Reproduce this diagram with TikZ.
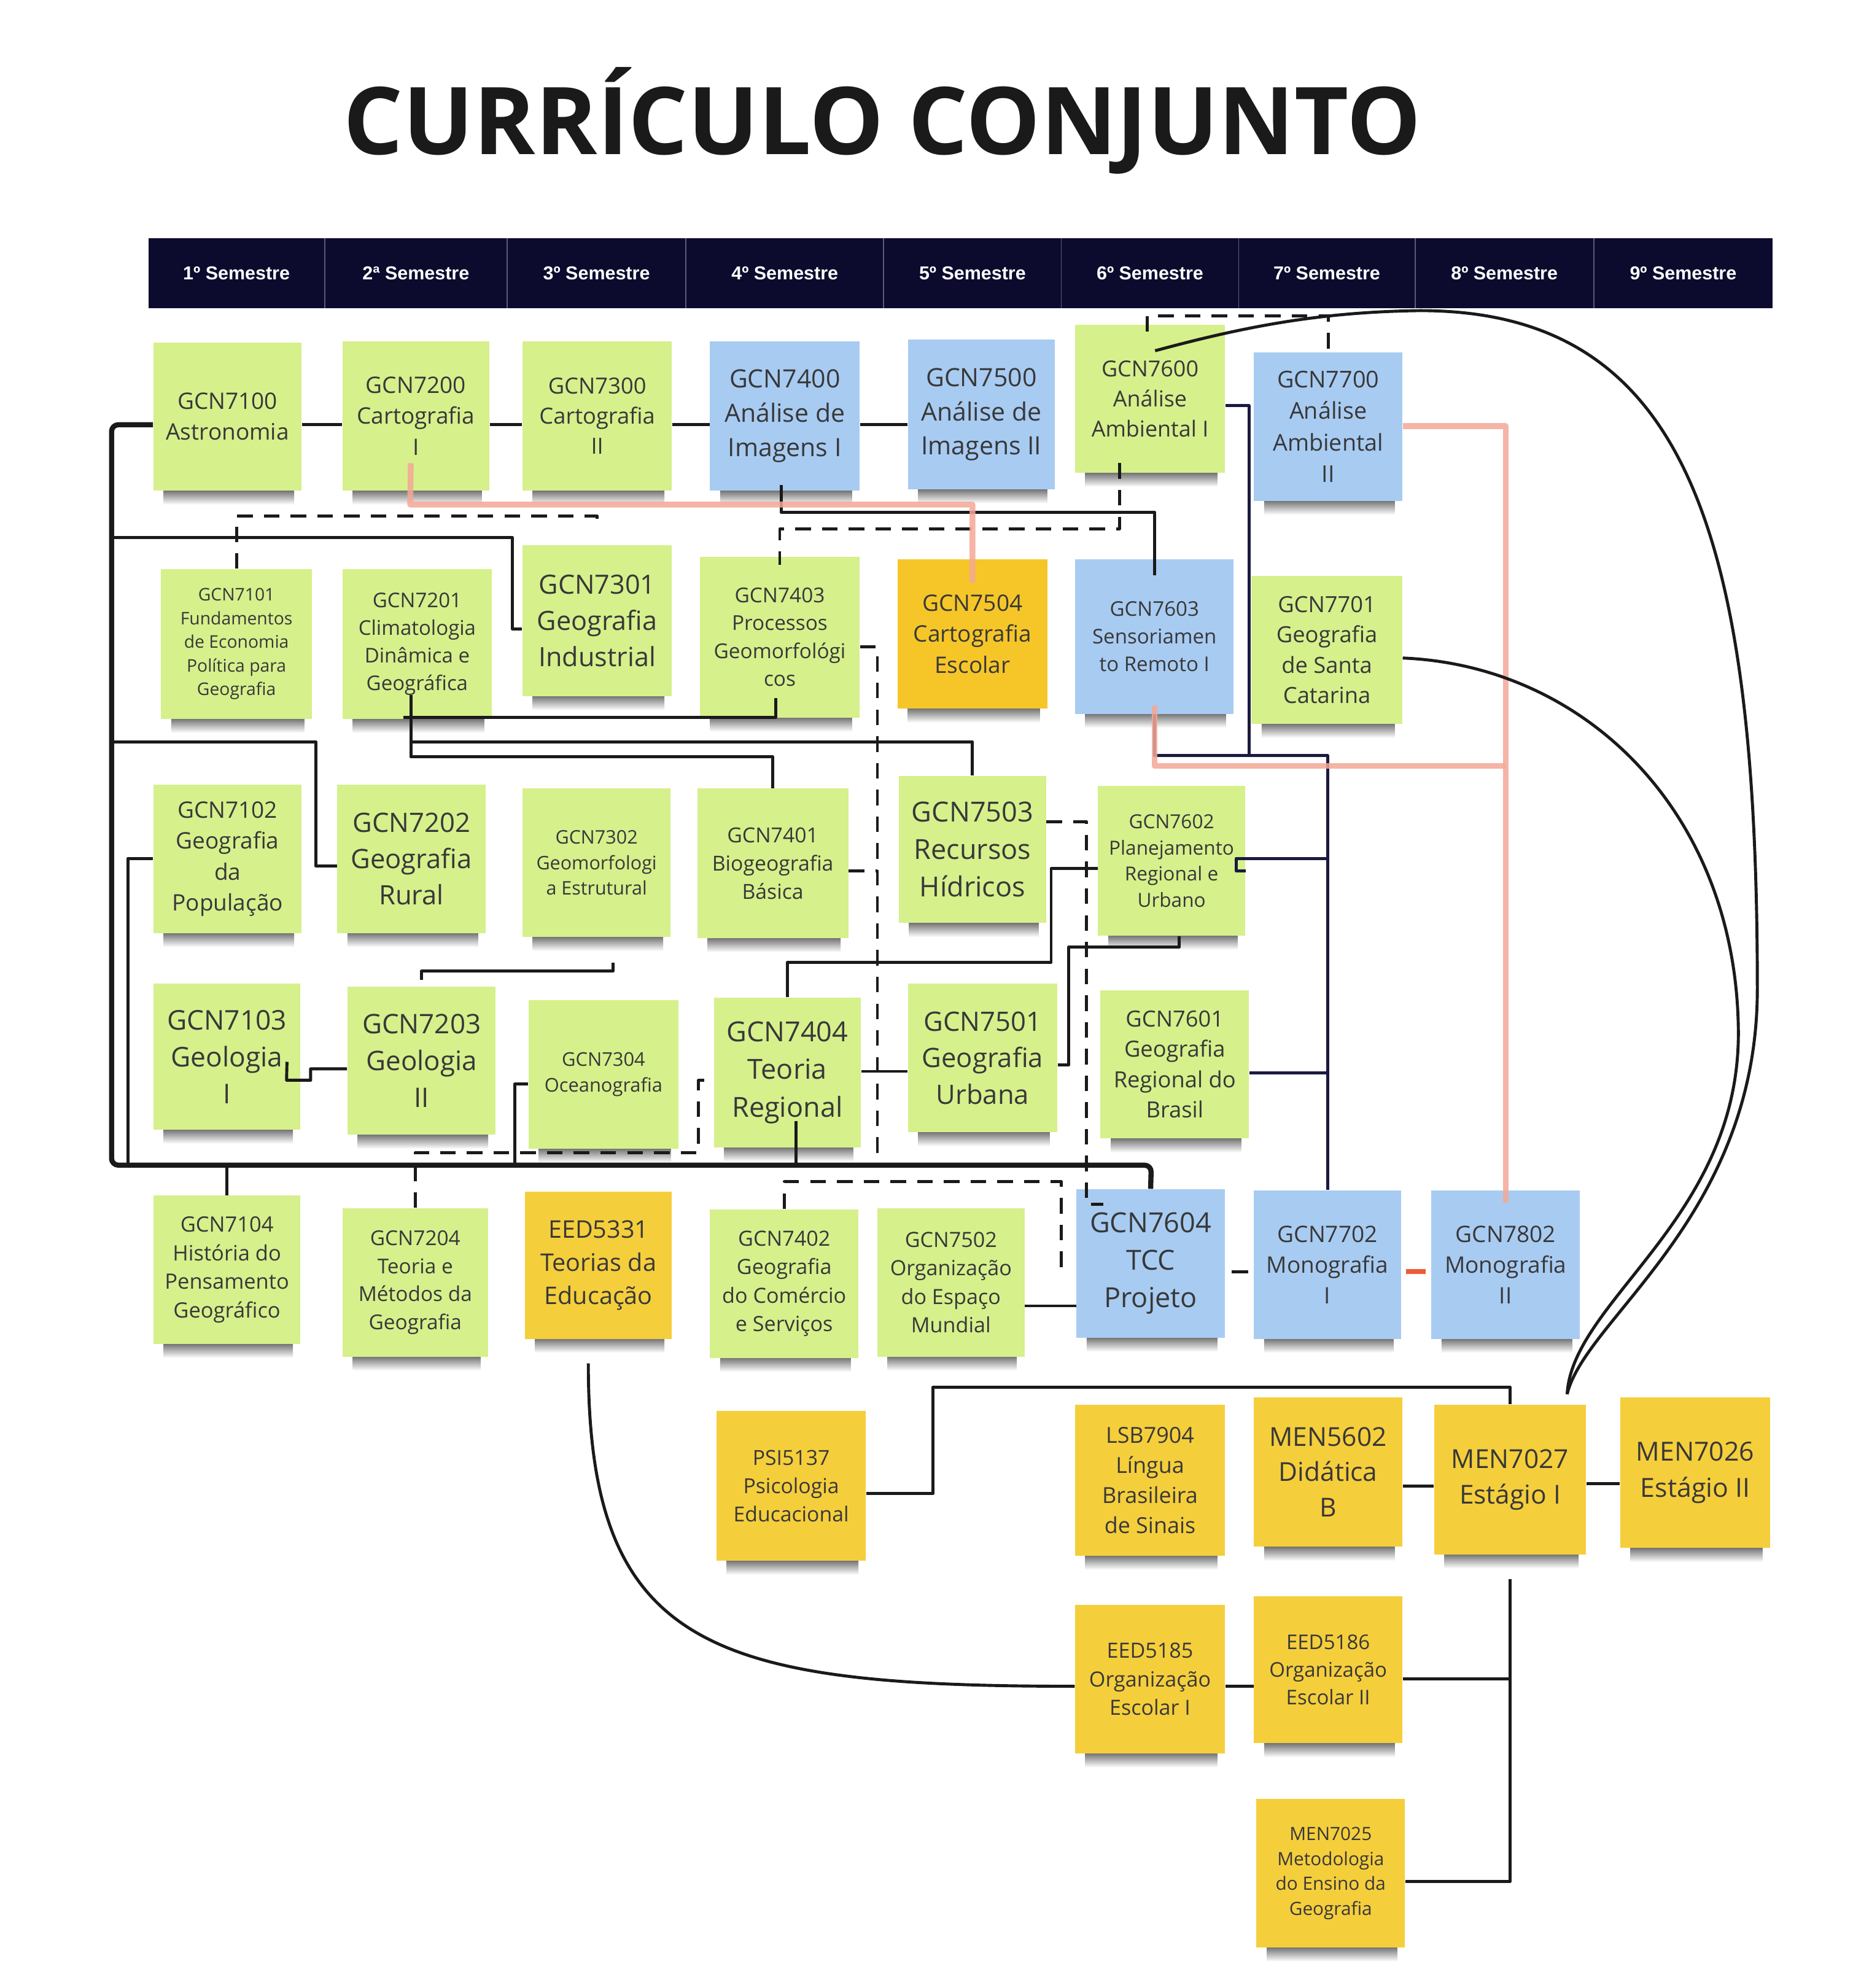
\documentclass[tikz,border=0pt]{standalone}
\usepackage{fontspec}
\setmainfont{Open Sans}
\newfontfamily\headfont{Liberation Sans}
\usetikzlibrary{calc}
\definecolor{greenc}{HTML}{D6F08C}
\definecolor{bluec}{HTML}{A8CBF2}
\definecolor{yellowc}{HTML}{F5CE3C}
\definecolor{orangec}{HTML}{F6C628}
\definecolor{navyc}{HTML}{0C0B2E}
\definecolor{divc}{HTML}{5A5A80}
\definecolor{navyl}{HTML}{1B1A40}
\definecolor{pinkc}{HTML}{F4A896}
\definecolor{redc}{HTML}{EF5B35}
\definecolor{linec}{HTML}{1A1A1A}
\definecolor{textc}{HTML}{383838}
\definecolor{titlec}{HTML}{1A1A1A}
\tikzset{
  cardbox/.style={rectangle, inner sep=0pt, align=center, text=textc},
  conn/.style={line width=1.35pt, draw=linec, line join=round},
  trunk/.style={conn, line width=2.3pt},
  dconn/.style={conn, dash pattern=on 7pt off 5pt},
  nconn/.style={conn, draw=navyl},
  pconn/.style={line width=2.6pt, draw=pinkc, opacity=0.85, line join=round},
  rconn/.style={line width=2.2pt, draw=redc},
  semlabel/.style={text=white, font=\headfont\bfseries\fontsize{8.4}{10}\selectfont}
}
\newcommand{\card}[8]{%
  \shade[top color=black!75, bottom color=white, opacity=0.85] ({#2+8},{#3+#5-2}) rectangle ({#2+#4-6},{#3+#5+11});
  \pgfmathsetmacro\cardbls{1.36*#7}%
  \node[cardbox, fill=#6, minimum width={#4*0.02cm}, minimum height={#5*0.02cm},
        font=\fontsize{#7}{\cardbls}\selectfont] (#1) at ({#2+#4/2},{#3+#5/2}) {#8};}
\begin{document}
\begin{tikzpicture}[x=0.02cm, y=-0.02cm]
\useasboundingbox[fill=white] (0,0) rectangle (1461,1568);
% title
\node[font=\fontsize{42}{50}\selectfont\bfseries, text=titlec, anchor=base] (title) at (696,122) {CURRÍCULO CONJUNTO};
% header
\fill[navyc] (117,188) rectangle (1398,243);
\foreach \x in {256,400,541,697,837,977,1116,1257} \draw[divc, line width=0.5pt] (\x,188) -- (\x,243);
\node[semlabel] (h1) at (186.5,215.5) {1º Semestre};
\node[semlabel] (h2) at (328,215.5) {2ª Semestre};
\node[semlabel] (h3) at (470.5,215.5) {3º Semestre};
\node[semlabel] (h4) at (619,215.5) {4º Semestre};
\node[semlabel] (h5) at (767,215.5) {5º Semestre};
\node[semlabel] (h6) at (907,215.5) {6º Semestre};
\node[semlabel] (h7) at (1046.5,215.5) {7º Semestre};
\node[semlabel] (h8) at (1186.5,215.5) {8º Semestre};
\node[semlabel] (h9) at (1327.5,215.5) {9º Semestre};
% cards
\card{c7100}{121}{270}{117}{117}{greenc}{10.2}{GCN7100\\Astronomia}
\card{c7200}{270}{269}{116}{118}{greenc}{10.2}{GCN7200\\Cartografia\\I}
\card{c7300}{412}{269}{118}{118}{greenc}{10.0}{GCN7300\\Cartografia\\II}
\card{c7400}{560}{269}{118}{118}{bluec}{11.3}{GCN7400\\Análise de\\Imagens I}
\card{c7500}{716}{268}{116}{118}{bluec}{11.3}{GCN7500\\Análise de\\Imagens II}
\card{c7600}{848}{256}{118}{117}{greenc}{9.9}{GCN7600\\Análise\\Ambiental I}
\card{c7700}{989}{278}{117}{117}{bluec}{10.4}{GCN7700\\Análise\\Ambiental\\II}
\card{c7101}{127}{449}{119}{118}{greenc}{7.8}{GCN7101\\Fundamentos\\de Economia\\Política para\\Geografia}
\card{c7201}{270}{449}{118}{118}{greenc}{9.1}{GCN7201\\Climatologia\\Dinâmica e\\Geográfica}
\card{c7301}{412}{430}{118}{119}{greenc}{11.9}{GCN7301\\Geografia\\Industrial}
\card{c7403}{552}{439}{126}{127}{greenc}{9.2}{GCN7403\\Processos\\Geomorfológi\\cos}
\card{c7504}{708}{441}{118}{118}{orangec}{10.2}{GCN7504\\Cartografia\\Escolar}
\card{c7603}{848}{441}{125}{122}{bluec}{9.1}{GCN7603\\Sensoriamen\\to Remoto I}
\card{c7701}{987}{454}{119}{117}{greenc}{10.0}{GCN7701\\Geografia\\de Santa\\Catarina}
\card{c7102}{121}{619}{117}{117}{greenc}{10.2}{GCN7102\\Geografia\\da\\População}
\card{c7202}{266}{619}{117}{117}{greenc}{12.0}{GCN7202\\Geografia\\Rural}
\card{c7302}{412}{622}{117}{117}{greenc}{8.4}{GCN7302\\Geomorfologi\\a Estrutural}
\card{c7401}{550}{622}{119}{118}{greenc}{9.3}{GCN7401\\Biogeografia\\Básica}
\card{c7503}{709}{612}{116}{116}{greenc}{12.4}{GCN7503\\Recursos\\Hídricos}
\card{c7602}{866}{620}{116}{118}{greenc}{8.7}{GCN7602\\Planejamento\\Regional e\\Urbano}
\card{c7103}{121}{776}{116}{115}{greenc}{12.2}{GCN7103\\Geologia\\I}
\card{c7203}{274}{778}{117}{117}{greenc}{12.1}{GCN7203\\Geologia\\II}
\card{c7304}{417}{789}{118}{117}{greenc}{8.5}{GCN7304\\Oceanografia}
\card{c7404}{563}{787}{116}{118}{greenc}{12.4}{GCN7404\\Teoria\\Regional}
\card{c7501}{716}{776}{118}{117}{greenc}{12.0}{GCN7501\\Geografia\\Urbana}
\card{c7601}{868}{781}{117}{117}{greenc}{10.0}{GCN7601\\Geografia\\Regional do\\Brasil}
\card{c7104}{121}{943}{116}{117}{greenc}{9.5}{GCN7104\\História do\\Pensamento\\Geográfico}
\card{c7204}{270}{953}{115}{117}{greenc}{9.2}{GCN7204\\Teoria e\\Métodos da\\Geografia}
\card{c5331}{414}{940}{116}{116}{yellowc}{10.9}{EED5331\\Teorias da\\Educação}
\card{c7402}{560}{954}{117}{117}{greenc}{9.4}{GCN7402\\Geografia\\do Comércio\\e Serviços}
\card{c7502}{692}{953}{116}{117}{greenc}{9.4}{GCN7502\\Organização\\do Espaço\\Mundial}
\card{c7604}{849}{938}{117}{117}{bluec}{12.4}{GCN7604\\TCC\\Projeto}
\card{c7702}{989}{939}{116}{117}{bluec}{10.2}{GCN7702\\Monografia\\I}
\card{c7802}{1129}{939}{117}{117}{bluec}{10.2}{GCN7802\\Monografia\\II}
\card{c5137}{565}{1113}{118}{118}{yellowc}{9.3}{PSI5137\\Psicologia\\Educacional}
\card{c7904}{848}{1108}{118}{119}{yellowc}{9.9}{LSB7904\\Língua\\Brasileira\\de Sinais}
\card{c5602}{989}{1102}{117}{118}{yellowc}{11.7}{MEN5602\\Didática\\B}
\card{c7027}{1131}{1108}{120}{118}{yellowc}{11.7}{MEN7027\\Estágio I}
\card{c7026}{1278}{1102}{118}{119}{yellowc}{11.8}{MEN7026\\Estágio II}
\card{c5185}{848}{1266}{118}{117}{yellowc}{9.4}{EED5185\\Organização\\Escolar I}
\card{c5186}{989}{1259}{117}{116}{yellowc}{9.1}{EED5186\\Organização\\Escolar II}
\card{c7025}{991}{1419}{117}{117}{yellowc}{8.2}{MEN7025\\Metodologia\\do Ensino da\\Geografia}
% ---------- connectors ----------
% top row
\draw[conn] (c7100.east |- 0,335) -- (c7200.west |- 0,335);
\draw[conn] (c7200.east |- 0,335) -- (c7300.west |- 0,335);
\draw[conn] (c7300.east |- 0,335) -- (c7400.west |- 0,335);
\draw[conn] (c7400.east |- 0,335) -- (c7500.west |- 0,335);
% trunk
\draw[trunk, rounded corners=3pt] (c7100.west |- 0,335) -- (88,335) -- (88,919) -- (908,919) -- (c7604.north);
\draw[conn] (88,424) -- (404,424) -- (404,496) -- (c7301.west |- 0,496);
\draw[conn] (88,585) -- (249,585) -- (249,683) -- (c7202.west |- 0,683);
\draw[conn] (c7102.west |- 0,677) -- (101,677) -- (101,919);
\draw[conn] (179,919) -- (c7104.north);
\draw[conn] (c7304.west |- 0,855) -- (406,855) -- (406,919);
\draw[conn] ($(c7404.south)+(7,-21)$) -- (628,919);
% GCN7201 hub
\draw[conn] ($(c7201.south)+(-5,-19)$) -- (324,597) -- (c7401.north |- 0,597) -- (c7401.north);
\draw[conn] (318,566) -- (612,566) -- ($(c7403.south)+(-3,-16)$);
\draw[conn] (324,585) -- (c7503.north |- 0,585) -- (c7503.north);
% dashed 7101 - 7301
\draw[dconn] (c7101.north) -- (c7101.north |- 0,407) -- (c7301.north |- 0,407) -- ($(c7301.north)+(0,-12)$);
% 7400 - 7603
\draw[conn] ($(c7400.south)+(-3,-5)$) -- (616,404) -- (c7603.north |- 0,404) -- ($(c7603.north)+(0,13)$);
% dashed 7600 - 7403
\draw[dconn] ($(c7600.south)+(-24,-8)$) -- (883,417) -- (c7403.north |- 0,417) -- ($(c7403.north)+(0,7)$);
% dashed 7600 - 7700
\draw[dconn] ($(c7600.north)+(-2,6)$) -- (905,249) -- (c7700.north |- 0,249) -- (c7700.north);
% navy
\draw[nconn] (c7600.east |- 0,320) -- (985,320) -- (985,596) -- (c7702.north |- 0,596) -- (c7702.north);
\draw[nconn] (c7603.south) -- (c7603.south |- 0,596) -- (985,596);
\draw[nconn] (c7602.east |- 0,687) -- (975,687) -- (975,677) -- (c7702.north |- 0,677);
\draw[nconn] (c7601.east |- 0,846) -- (c7702.north |- 0,846);
% pink
\draw[pconn] ($(c7200.south)+(-4,-22)$) -- (323.5,398) -- (c7504.north |- 0,398) -- ($(c7504.north)+(0,19)$);
\draw[pconn] ($(c7603.south)+(0,-7)$) -- (c7603.south |- 0,604) -- (c7802.north |- 0,604);
\draw[pconn] (c7700.east |- 0,336) -- (c7802.north |- 0,336) -- ($(c7802.north)+(0,10)$);
% middle
\draw[conn] (c7404.north) -- (c7404.north |- 0,759) -- (829,759) -- (829,685) -- (c7602.west |- 0,685);
\draw[conn] (c7501.east |- 0,840) -- (843,840) -- (843,747) -- (930,747) -- (c7602.south -| 930,0);
\draw[conn] (c7404.east |- 0,845) -- (c7501.west |- 0,845);
\draw[dconn] (c7403.east |- 0,510) -- (692,510) -- (692,921);
\draw[dconn] (c7401.east |- 0,687) -- (692,687);
\draw[dconn] (c7503.east |- 0,648) -- (857,648) -- (857,950) -- (870,950);
\draw[dconn] (c7402.north) -- (c7402.north |- 0,932) -- (837,932) -- (837,1003);
\draw[conn] (c7502.east |- 0,1030) -- (c7604.west |- 0,1030);
\draw[conn, shorten <=3pt, shorten >=2.5pt] (c7604.east |- 0,1003) -- (c7702.west |- 0,1003);
\draw[rconn, shorten <=2pt, shorten >=2.5pt] (c7702.east |- 0,1003) -- (c7802.west |- 0,1003);
\draw[dconn] (c7204.north) -- (c7204.north |- 0,909) -- (551,909) -- (551,852) -- (c7404.west |- 0,852);
\draw[conn] ($(c7103.east)+(-11,4)$) -- (226,852) -- (245,852) -- (245,843) -- (c7203.west |- 0,843);
\draw[conn] ($(c7302.south)+(13,20)$) -- (483.5,766) -- (c7203.north |- 0,766) -- ($(c7203.north)+(0,-5)$);
% education block
\draw[conn] ($(c5331.south)+(-8,19)$) .. controls (464,1300) and (560,1330) .. (c5185.west |- 0,1330);
\draw[conn] (c5137.east |- 0,1178) -- (736,1178) -- (736,1094) -- (c7027.north |- 0,1094) -- (c7027.north);
\draw[conn] (c5602.east |- 0,1172) -- (c7027.west |- 0,1172);
\draw[conn] (c7027.east |- 0,1170) -- (c7026.west |- 0,1170);
\draw[conn] (c5185.east |- 0,1330) -- (c5186.west |- 0,1330);
\draw[conn] ($(c7027.south)+(0,19)$) -- (c7027.south |- 0,1484) -- (c7025.east |- 0,1484);
\draw[conn] (c5186.east |- 0,1324) -- (c7027.south |- 0,1324);
% curves to Estagio I
\draw[conn] ($(c7600.north)+(4,21)$) .. controls (980,258) and (1040,246) .. (1120,245)
   .. controls (1330,245) and (1386,420) .. (1386,780)
   .. controls (1386,960) and (1250,1040) .. ($(c7027.north)+(45,-8)$);
\draw[conn] (c7701.east |- 0,519) .. controls (1250,525) and (1368,640) .. (1371,810)
   .. controls (1374,960) and (1240,1025) .. ($(c7027.north)+(45,-8)$);
\end{tikzpicture}
\end{document}
